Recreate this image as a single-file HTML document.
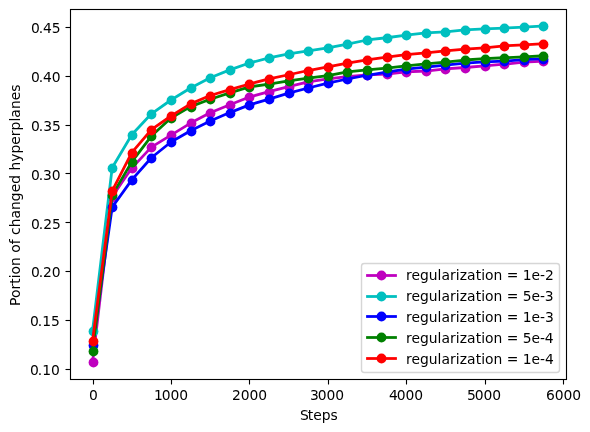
<!DOCTYPE html>
<html lang="en"><head><meta charset="utf-8"><title>Portion of changed hyperplanes vs. steps</title>
<style>html,body{margin:0;padding:0;background:#fff;overflow:hidden}body{width:590px;height:432px}svg{display:block}</style>
</head><body>
<svg width="590" height="432" viewBox="0 0 590 432" style="display:block" font-family="'DejaVu Sans', 'Liberation Sans', sans-serif" font-size="13.889px" fill="#000">
<rect width="590" height="432" fill="#fff"/>
<defs><clipPath id="ax"><rect x="70.028" y="9.122" width="496.000" height="369.600"/></clipPath></defs>
<g stroke="#000" stroke-width="1.111" fill="none">
<path d="M93.5 379.5V384.5"/>
<path d="M171.5 379.5V384.5"/>
<path d="M249.5 379.5V384.5"/>
<path d="M328.5 379.5V384.5"/>
<path d="M406.5 379.5V384.5"/>
<path d="M485.5 379.5V384.5"/>
<path d="M563.5 379.5V384.5"/>
<path d="M70.5 369.5H65.5"/>
<path d="M70.5 320.5H65.5"/>
<path d="M70.5 271.5H65.5"/>
<path d="M70.5 222.5H65.5"/>
<path d="M70.5 173.5H65.5"/>
<path d="M70.5 125.5H65.5"/>
<path d="M70.5 76.5H65.5"/>
<path d="M70.5 27.5H65.5"/>
</g>
<g>
<text x="88.90" y="400">0</text>
<text x="153.89 161.77 170.52 179.27" y="400">1000</text>
<text x="231.90 240.65 249.40 258.15" y="400">2000</text>
<text x="309.89 317.64 326.39 335.14" y="400">3000</text>
<text x="388.88 396.63 405.38 414.13" y="400">4000</text>
<text x="466.89 474.64 483.39 492.14" y="400">5000</text>
<text x="545.93 554.81 563.56 572.31" y="400">6000</text>
</g><g>
<text x="30.03 37.78 42.16 51.03" y="375">0.10</text>
<text x="30.05 37.80 42.18 51.05" y="326">0.15</text>
<text x="30.90 38.65 43.02 51.77" y="277">0.20</text>
<text x="31.02 38.77 43.14 51.89" y="229">0.25</text>
<text x="30.91 38.66 43.03 51.78" y="180">0.30</text>
<text x="31.04 38.79 43.16 51.91" y="131">0.35</text>
<text x="30.88 38.63 43.00 51.75" y="82">0.40</text>
<text x="30.89 38.64 43.01 51.76" y="33">0.45</text>
</g>
<text x="299.89 307.64 313.14 321.64 330.51" y="420">Steps</text>
<text transform="translate(19.50 195.34) rotate(-90)" x="-110.62 -102.75 -94.25 -88.50 -83.00 -79.12 -70.62 -61.88 -57.50 -49.00 -44.00 -39.62 -32.00 -23.25 -14.62 -5.88 3.00 11.50 20.38 24.75 33.50 41.75 50.62 59.12 64.88 73.75 77.62 86.25 95.00 103.50">Portion of changed hyperplanes</text>
<g clip-path="url(#ax)">
<polyline points="92.57,361.92 112.18,196.77 131.78,168.08 151.39,147.09 170.99,135.09 190.60,123.09 210.20,112.80 229.81,104.66 249.41,97.00 269.02,91.60 288.62,86.60 308.23,81.81 327.83,78.91 347.43,76.51 367.04,74.91 386.64,74.11 406.25,71.91 425.85,71.01 445.46,68.91 465.06,67.51 484.67,65.81 504.27,64.21 523.88,62.21 543.48,61.21" fill="none" stroke="#bf00bf" stroke-width="2.778" stroke-linejoin="round" stroke-linecap="square"/>
<g fill="#bf00bf"><circle cx="93.5" cy="362.5" r="4.900"/><circle cx="112.5" cy="197.5" r="4.900"/><circle cx="132.5" cy="168.5" r="4.900"/><circle cx="151.5" cy="147.5" r="4.900"/><circle cx="171.5" cy="135.5" r="4.900"/><circle cx="191.5" cy="123.5" r="4.900"/><circle cx="210.5" cy="113.5" r="4.900"/><circle cx="230.5" cy="105.5" r="4.900"/><circle cx="249.5" cy="97.5" r="4.900"/><circle cx="269.5" cy="92.5" r="4.900"/><circle cx="289.5" cy="87.5" r="4.900"/><circle cx="308.5" cy="82.5" r="4.900"/><circle cx="328.5" cy="79.5" r="4.900"/><circle cx="347.5" cy="77.5" r="4.900"/><circle cx="367.5" cy="75.5" r="4.900"/><circle cx="387.5" cy="74.5" r="4.900"/><circle cx="406.5" cy="72.5" r="4.900"/><circle cx="426.5" cy="71.5" r="4.900"/><circle cx="445.5" cy="69.5" r="4.900"/><circle cx="465.5" cy="68.5" r="4.900"/><circle cx="485.5" cy="66.5" r="4.900"/><circle cx="504.5" cy="64.5" r="4.900"/><circle cx="524.5" cy="62.5" r="4.900"/><circle cx="543.5" cy="61.5" r="4.900"/></g>
<polyline points="92.57,330.63 112.18,167.73 131.78,134.69 151.39,113.80 170.99,100.00 190.60,87.95 210.20,77.81 229.81,69.91 249.41,63.01 269.02,57.94 288.62,53.87 308.23,50.79 327.83,47.95 347.43,44.08 367.04,39.99 386.64,37.75 406.25,35.12 425.85,32.95 445.46,31.92 465.06,29.90 484.67,28.90 504.27,28.02 523.88,27.12 543.48,25.92" fill="none" stroke="#00bfbf" stroke-width="2.778" stroke-linejoin="round" stroke-linecap="square"/>
<g fill="#00bfbf"><circle cx="93.5" cy="331.5" r="4.900"/><circle cx="112.5" cy="168.5" r="4.900"/><circle cx="132.5" cy="135.5" r="4.900"/><circle cx="151.5" cy="114.5" r="4.900"/><circle cx="171.5" cy="100.5" r="4.900"/><circle cx="191.5" cy="88.5" r="4.900"/><circle cx="210.5" cy="78.5" r="4.900"/><circle cx="230.5" cy="70.5" r="4.900"/><circle cx="249.5" cy="63.5" r="4.900"/><circle cx="269.5" cy="58.5" r="4.900"/><circle cx="289.5" cy="54.5" r="4.900"/><circle cx="308.5" cy="51.5" r="4.900"/><circle cx="328.5" cy="48.5" r="4.900"/><circle cx="347.5" cy="44.5" r="4.900"/><circle cx="367.5" cy="40.5" r="4.900"/><circle cx="387.5" cy="38.5" r="4.900"/><circle cx="406.5" cy="35.5" r="4.900"/><circle cx="426.5" cy="33.5" r="4.900"/><circle cx="445.5" cy="32.5" r="4.900"/><circle cx="465.5" cy="30.5" r="4.900"/><circle cx="485.5" cy="29.5" r="4.900"/><circle cx="504.5" cy="28.5" r="4.900"/><circle cx="524.5" cy="27.5" r="4.900"/><circle cx="543.5" cy="26.5" r="4.900"/></g>
<polyline points="92.57,344.53 112.18,207.27 131.78,179.88 151.39,157.78 170.99,141.99 190.60,130.79 210.20,121.09 229.81,112.60 249.41,104.90 269.02,99.20 288.62,93.10 308.23,88.00 327.83,83.10 347.43,79.01 367.04,75.26 386.64,72.11 406.25,69.11 425.85,67.11 445.46,65.11 465.06,63.21 484.67,61.81 504.27,61.21 523.88,59.66 543.48,58.61" fill="none" stroke="#0000ff" stroke-width="2.778" stroke-linejoin="round" stroke-linecap="square"/>
<g fill="#0000ff"><circle cx="93.5" cy="345.5" r="4.900"/><circle cx="112.5" cy="207.5" r="4.900"/><circle cx="132.5" cy="180.5" r="4.900"/><circle cx="151.5" cy="158.5" r="4.900"/><circle cx="171.5" cy="142.5" r="4.900"/><circle cx="191.5" cy="131.5" r="4.900"/><circle cx="210.5" cy="121.5" r="4.900"/><circle cx="230.5" cy="113.5" r="4.900"/><circle cx="249.5" cy="105.5" r="4.900"/><circle cx="269.5" cy="99.5" r="4.900"/><circle cx="289.5" cy="93.5" r="4.900"/><circle cx="308.5" cy="88.5" r="4.900"/><circle cx="328.5" cy="83.5" r="4.900"/><circle cx="347.5" cy="79.5" r="4.900"/><circle cx="367.5" cy="75.5" r="4.900"/><circle cx="387.5" cy="72.5" r="4.900"/><circle cx="406.5" cy="69.5" r="4.900"/><circle cx="426.5" cy="67.5" r="4.900"/><circle cx="445.5" cy="65.5" r="4.900"/><circle cx="465.5" cy="63.5" r="4.900"/><circle cx="485.5" cy="62.5" r="4.900"/><circle cx="504.5" cy="61.5" r="4.900"/><circle cx="524.5" cy="60.5" r="4.900"/><circle cx="543.5" cy="59.5" r="4.900"/></g>
<polyline points="92.57,350.83 112.18,195.17 131.78,161.88 151.39,136.04 170.99,118.09 190.60,106.60 210.20,99.30 229.81,92.90 249.41,86.90 269.02,84.05 288.62,80.81 308.23,78.01 327.83,75.51 347.43,71.91 367.04,69.86 386.64,68.01 406.25,65.81 425.85,63.85 445.46,62.21 465.06,60.01 484.67,58.71 504.27,57.76 523.88,56.81 543.48,55.81" fill="none" stroke="#008000" stroke-width="2.778" stroke-linejoin="round" stroke-linecap="square"/>
<g fill="#008000"><circle cx="93.5" cy="351.5" r="4.900"/><circle cx="112.5" cy="195.5" r="4.900"/><circle cx="132.5" cy="162.5" r="4.900"/><circle cx="151.5" cy="136.5" r="4.900"/><circle cx="171.5" cy="118.5" r="4.900"/><circle cx="191.5" cy="107.5" r="4.900"/><circle cx="210.5" cy="99.5" r="4.900"/><circle cx="230.5" cy="93.5" r="4.900"/><circle cx="249.5" cy="87.5" r="4.900"/><circle cx="269.5" cy="84.5" r="4.900"/><circle cx="289.5" cy="81.5" r="4.900"/><circle cx="308.5" cy="78.5" r="4.900"/><circle cx="328.5" cy="76.5" r="4.900"/><circle cx="347.5" cy="72.5" r="4.900"/><circle cx="367.5" cy="70.5" r="4.900"/><circle cx="387.5" cy="68.5" r="4.900"/><circle cx="406.5" cy="66.5" r="4.900"/><circle cx="426.5" cy="64.5" r="4.900"/><circle cx="445.5" cy="62.5" r="4.900"/><circle cx="465.5" cy="60.5" r="4.900"/><circle cx="485.5" cy="59.5" r="4.900"/><circle cx="504.5" cy="58.5" r="4.900"/><circle cx="524.5" cy="57.5" r="4.900"/><circle cx="543.5" cy="56.5" r="4.900"/></g>
<polyline points="92.57,340.63 112.18,190.87 131.78,152.68 151.39,129.59 170.99,116.00 190.60,103.90 210.20,95.50 229.81,89.70 249.41,84.00 269.02,78.86 288.62,74.76 308.23,70.51 327.83,66.91 347.43,63.21 367.04,59.86 386.64,57.06 406.25,54.66 425.85,52.83 445.46,50.91 465.06,49.07 484.67,47.82 504.27,45.87 523.88,44.77 543.48,43.75" fill="none" stroke="#ff0000" stroke-width="2.778" stroke-linejoin="round" stroke-linecap="square"/>
<g fill="#ff0000"><circle cx="93.5" cy="341.5" r="4.900"/><circle cx="112.5" cy="191.5" r="4.900"/><circle cx="132.5" cy="153.5" r="4.900"/><circle cx="151.5" cy="130.5" r="4.900"/><circle cx="171.5" cy="116.5" r="4.900"/><circle cx="191.5" cy="104.5" r="4.900"/><circle cx="210.5" cy="96.5" r="4.900"/><circle cx="230.5" cy="90.5" r="4.900"/><circle cx="249.5" cy="84.5" r="4.900"/><circle cx="269.5" cy="79.5" r="4.900"/><circle cx="289.5" cy="75.5" r="4.900"/><circle cx="308.5" cy="71.5" r="4.900"/><circle cx="328.5" cy="67.5" r="4.900"/><circle cx="347.5" cy="63.5" r="4.900"/><circle cx="367.5" cy="60.5" r="4.900"/><circle cx="387.5" cy="57.5" r="4.900"/><circle cx="406.5" cy="55.5" r="4.900"/><circle cx="426.5" cy="53.5" r="4.900"/><circle cx="445.5" cy="51.5" r="4.900"/><circle cx="465.5" cy="49.5" r="4.900"/><circle cx="485.5" cy="48.5" r="4.900"/><circle cx="504.5" cy="46.5" r="4.900"/><circle cx="524.5" cy="45.5" r="4.900"/><circle cx="543.5" cy="44.5" r="4.900"/></g>
</g>
<rect x="70.5" y="9.5" width="496.0" height="370.0" fill="none" stroke="#000" stroke-width="1.111"/>
<rect x="361.500" y="263.500" width="198.000" height="109.000" rx="2.778" fill="#fff" stroke="#ccc" stroke-width="1.389" opacity="0.8"/>
<path d="M367.5 275.5H395.5" stroke="#bf00bf" stroke-width="2.778" stroke-linecap="square"/>
<circle cx="381.5" cy="275.5" r="4.900" fill="#bf00bf"/>
<text x="405.91 411.41 419.91 428.78 437.53 441.41 450.03 455.78 459.66 467.03 475.66 481.16 485.03 493.53 502.28 506.66 518.28 522.66 531.53 540.03 544.91" y="280">regularization = 1e-2</text>
<path d="M367.5 296.5H395.5" stroke="#00bfbf" stroke-width="2.778" stroke-linecap="square"/>
<circle cx="381.5" cy="296.5" r="4.900" fill="#00bfbf"/>
<text x="405.90 411.40 419.90 428.77 437.52 441.40 450.02 455.77 459.65 467.02 475.65 481.15 485.02 493.52 502.27 506.65 518.27 522.65 531.40 539.90 544.77" y="301">regularization = 5e-3</text>
<path d="M367.5 316.5H395.5" stroke="#0000ff" stroke-width="2.778" stroke-linecap="square"/>
<circle cx="381.5" cy="316.5" r="4.900" fill="#0000ff"/>
<text x="405.90 411.40 419.90 428.77 437.52 441.40 450.02 455.77 459.65 467.02 475.65 481.15 485.02 493.52 502.27 506.65 518.27 522.65 531.52 540.02 544.90" y="322">regularization = 1e-3</text>
<path d="M367.5 337.5H395.5" stroke="#008000" stroke-width="2.778" stroke-linecap="square"/>
<circle cx="381.5" cy="337.5" r="4.900" fill="#008000"/>
<text x="405.93 411.43 419.93 428.80 437.55 441.43 450.05 455.80 459.68 467.05 475.68 481.18 485.05 493.55 502.30 506.68 518.30 522.68 531.43 539.93 544.80" y="343">regularization = 5e-4</text>
<path d="M367.5 358.5H395.5" stroke="#ff0000" stroke-width="2.778" stroke-linecap="square"/>
<circle cx="381.5" cy="358.5" r="4.900" fill="#ff0000"/>
<text x="405.88 411.38 419.88 428.75 437.50 441.38 450.00 455.75 459.63 467.00 475.63 481.13 485.00 493.50 502.25 506.63 518.25 522.63 531.50 540.00 544.88" y="364">regularization = 1e-4</text>
</svg>
</body></html>
